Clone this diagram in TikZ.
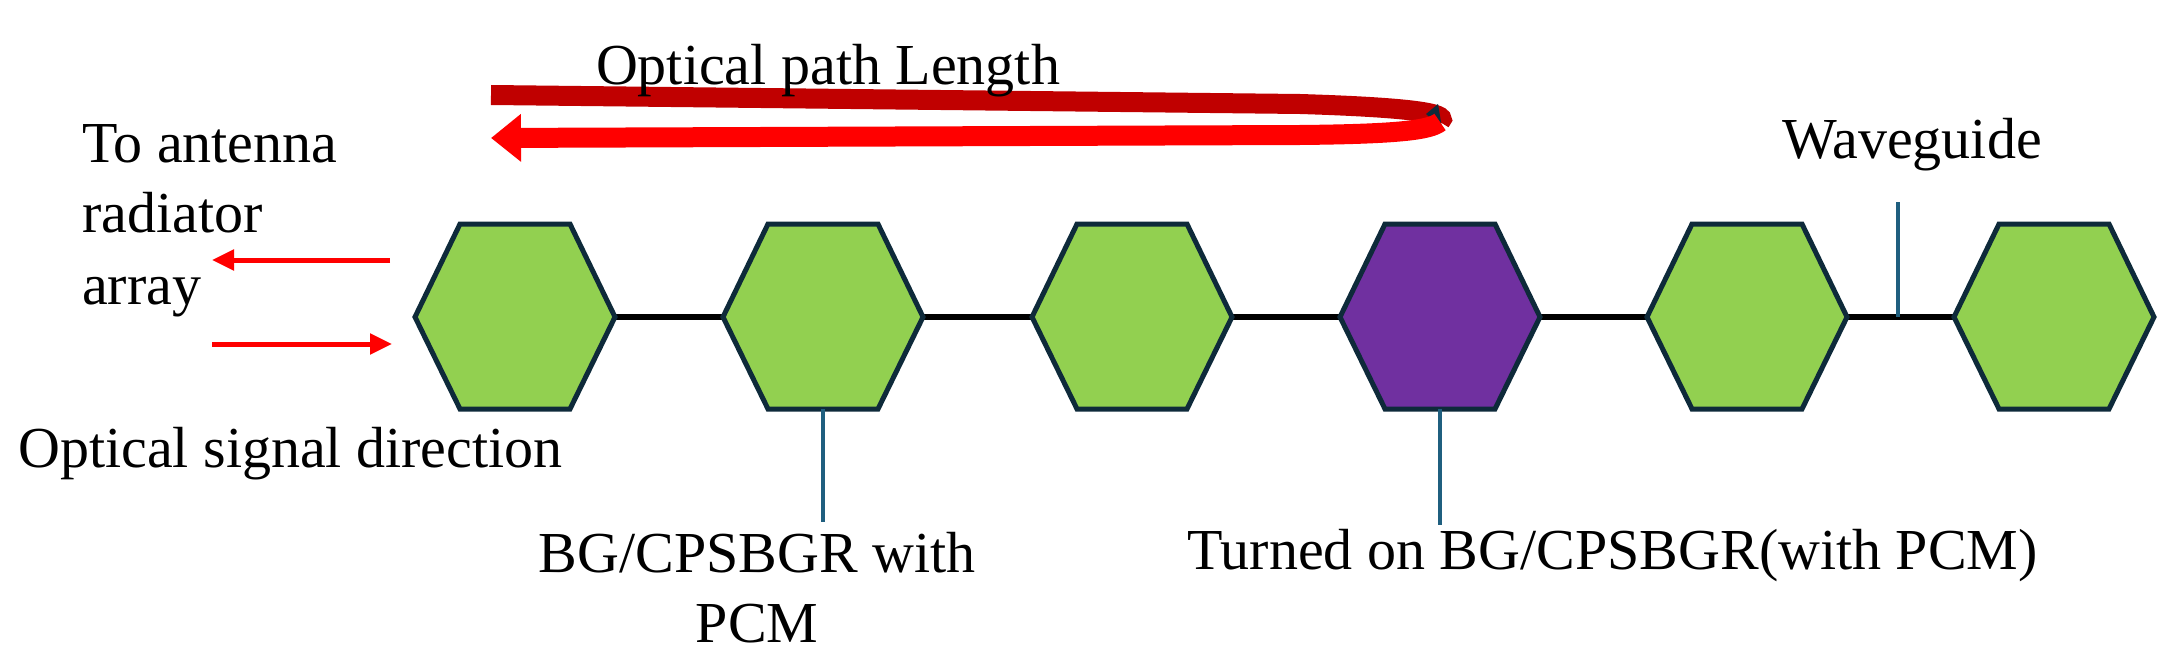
\documentclass[tikz,border=0pt]{standalone}
\usepackage{fontspec}
\setmainfont{Liberation Serif}
\usetikzlibrary{arrows.meta}
\definecolor{hexgreen}{HTML}{92D050}
\definecolor{hexpurple}{HTML}{7030A0}
\definecolor{hexedge}{HTML}{0E2A3A}
\definecolor{leader}{HTML}{1F5F7F}
\definecolor{darkred}{HTML}{C00000}
\begin{document}
\begin{tikzpicture}[x=1pt,y=-1pt,
  lbl/.style={inner sep=0pt,font=\fontsize{58}{70}\selectfont},
  wire/.style={line width=6pt,black},
  lead/.style={line width=3.5pt,leader},
  sig/.style={line width=5pt,red,-{Triangle[length=22pt,width=20pt]}}]
\useasboundingbox (0,0) rectangle (2170,663);
\foreach \i/\cx/\col in {1/515/hexgreen,2/823/hexgreen,3/1132/hexgreen,4/1440/hexpurple,5/1747/hexgreen,6/2054/hexgreen}{
  \coordinate (h\i) at (\cx,317);
  \coordinate (h\i w) at (\cx-100,317);
  \coordinate (h\i e) at (\cx+100,317);
  \coordinate (h\i s) at (\cx,409);
}
\foreach \a/\b in {1/2,2/3,3/4,4/5,5/6}{\draw[wire] (h\a e) -- (h\b w);}
\foreach \i/\cx/\col in {1/515/hexgreen,2/823/hexgreen,3/1132/hexgreen,4/1440/hexpurple,5/1747/hexgreen,6/2054/hexgreen}{
  \filldraw[fill=\col,draw=hexedge,line width=5pt,line join=miter]
   (\cx-100,317) -- (\cx-55,224) -- (\cx+55,224) -- (\cx+100,317) -- (\cx+55,409) -- (\cx-55,409) -- cycle;
}
\coordinate (wg) at (1898,317);
\coordinate (wgt) at (1898,202);
\draw[lead] (wg) -- (wgt);
\coordinate (l2) at (823,522);
\coordinate (l4) at (1440,525);
\draw[lead] (h2s) -- (l2);
\draw[lead] (h4s) -- (l4);
% optical path arrow
\draw[line width=20pt,darkred] (491,95) -- (1300,104) .. controls (1430,108) and (1448,115) .. (1440,122);
\fill[hexedge] (1426,114) -- (1442,128) -- (1438,104) -- cycle;
\draw[line width=20pt,red,-{Triangle[length=30pt,width=46pt]}] (1440,122) .. controls (1430,130) and (1400,134) .. (1300,135) -- (491,138);
% small arrows
\coordinate (a1s) at (390,260); \coordinate (a1e) at (212,260);
\coordinate (a2s) at (212,344); \coordinate (a2e) at (392,344);
\draw[sig] (a1s) -- (a1e);
\draw[sig] (a2s) -- (a2e);
% labels
\node[lbl,anchor=base] (tpath) at (828,85) {Optical path Length};
\node[lbl,anchor=base west] (t1) at (82,163) {To antenna};
\node[lbl,anchor=base west] (t2) at (82,233) {radiator};
\node[lbl,anchor=base west] (t3) at (82,304) {array};
\node[lbl,anchor=base west] (tsig) at (18,467) {Optical signal direction};
\node[lbl,anchor=base] (tbg1) at (757,572) {BG/CPSBGR with};
\node[lbl,anchor=base] (tbg2) at (757,642) {PCM};
\node[lbl,anchor=base east] (tturn) at (2038,569) {Turned on BG/CPSBGR(with PCM)};
\node[lbl,anchor=base] (twg) at (1912,159) {Waveguide};
\end{tikzpicture}
\end{document}
